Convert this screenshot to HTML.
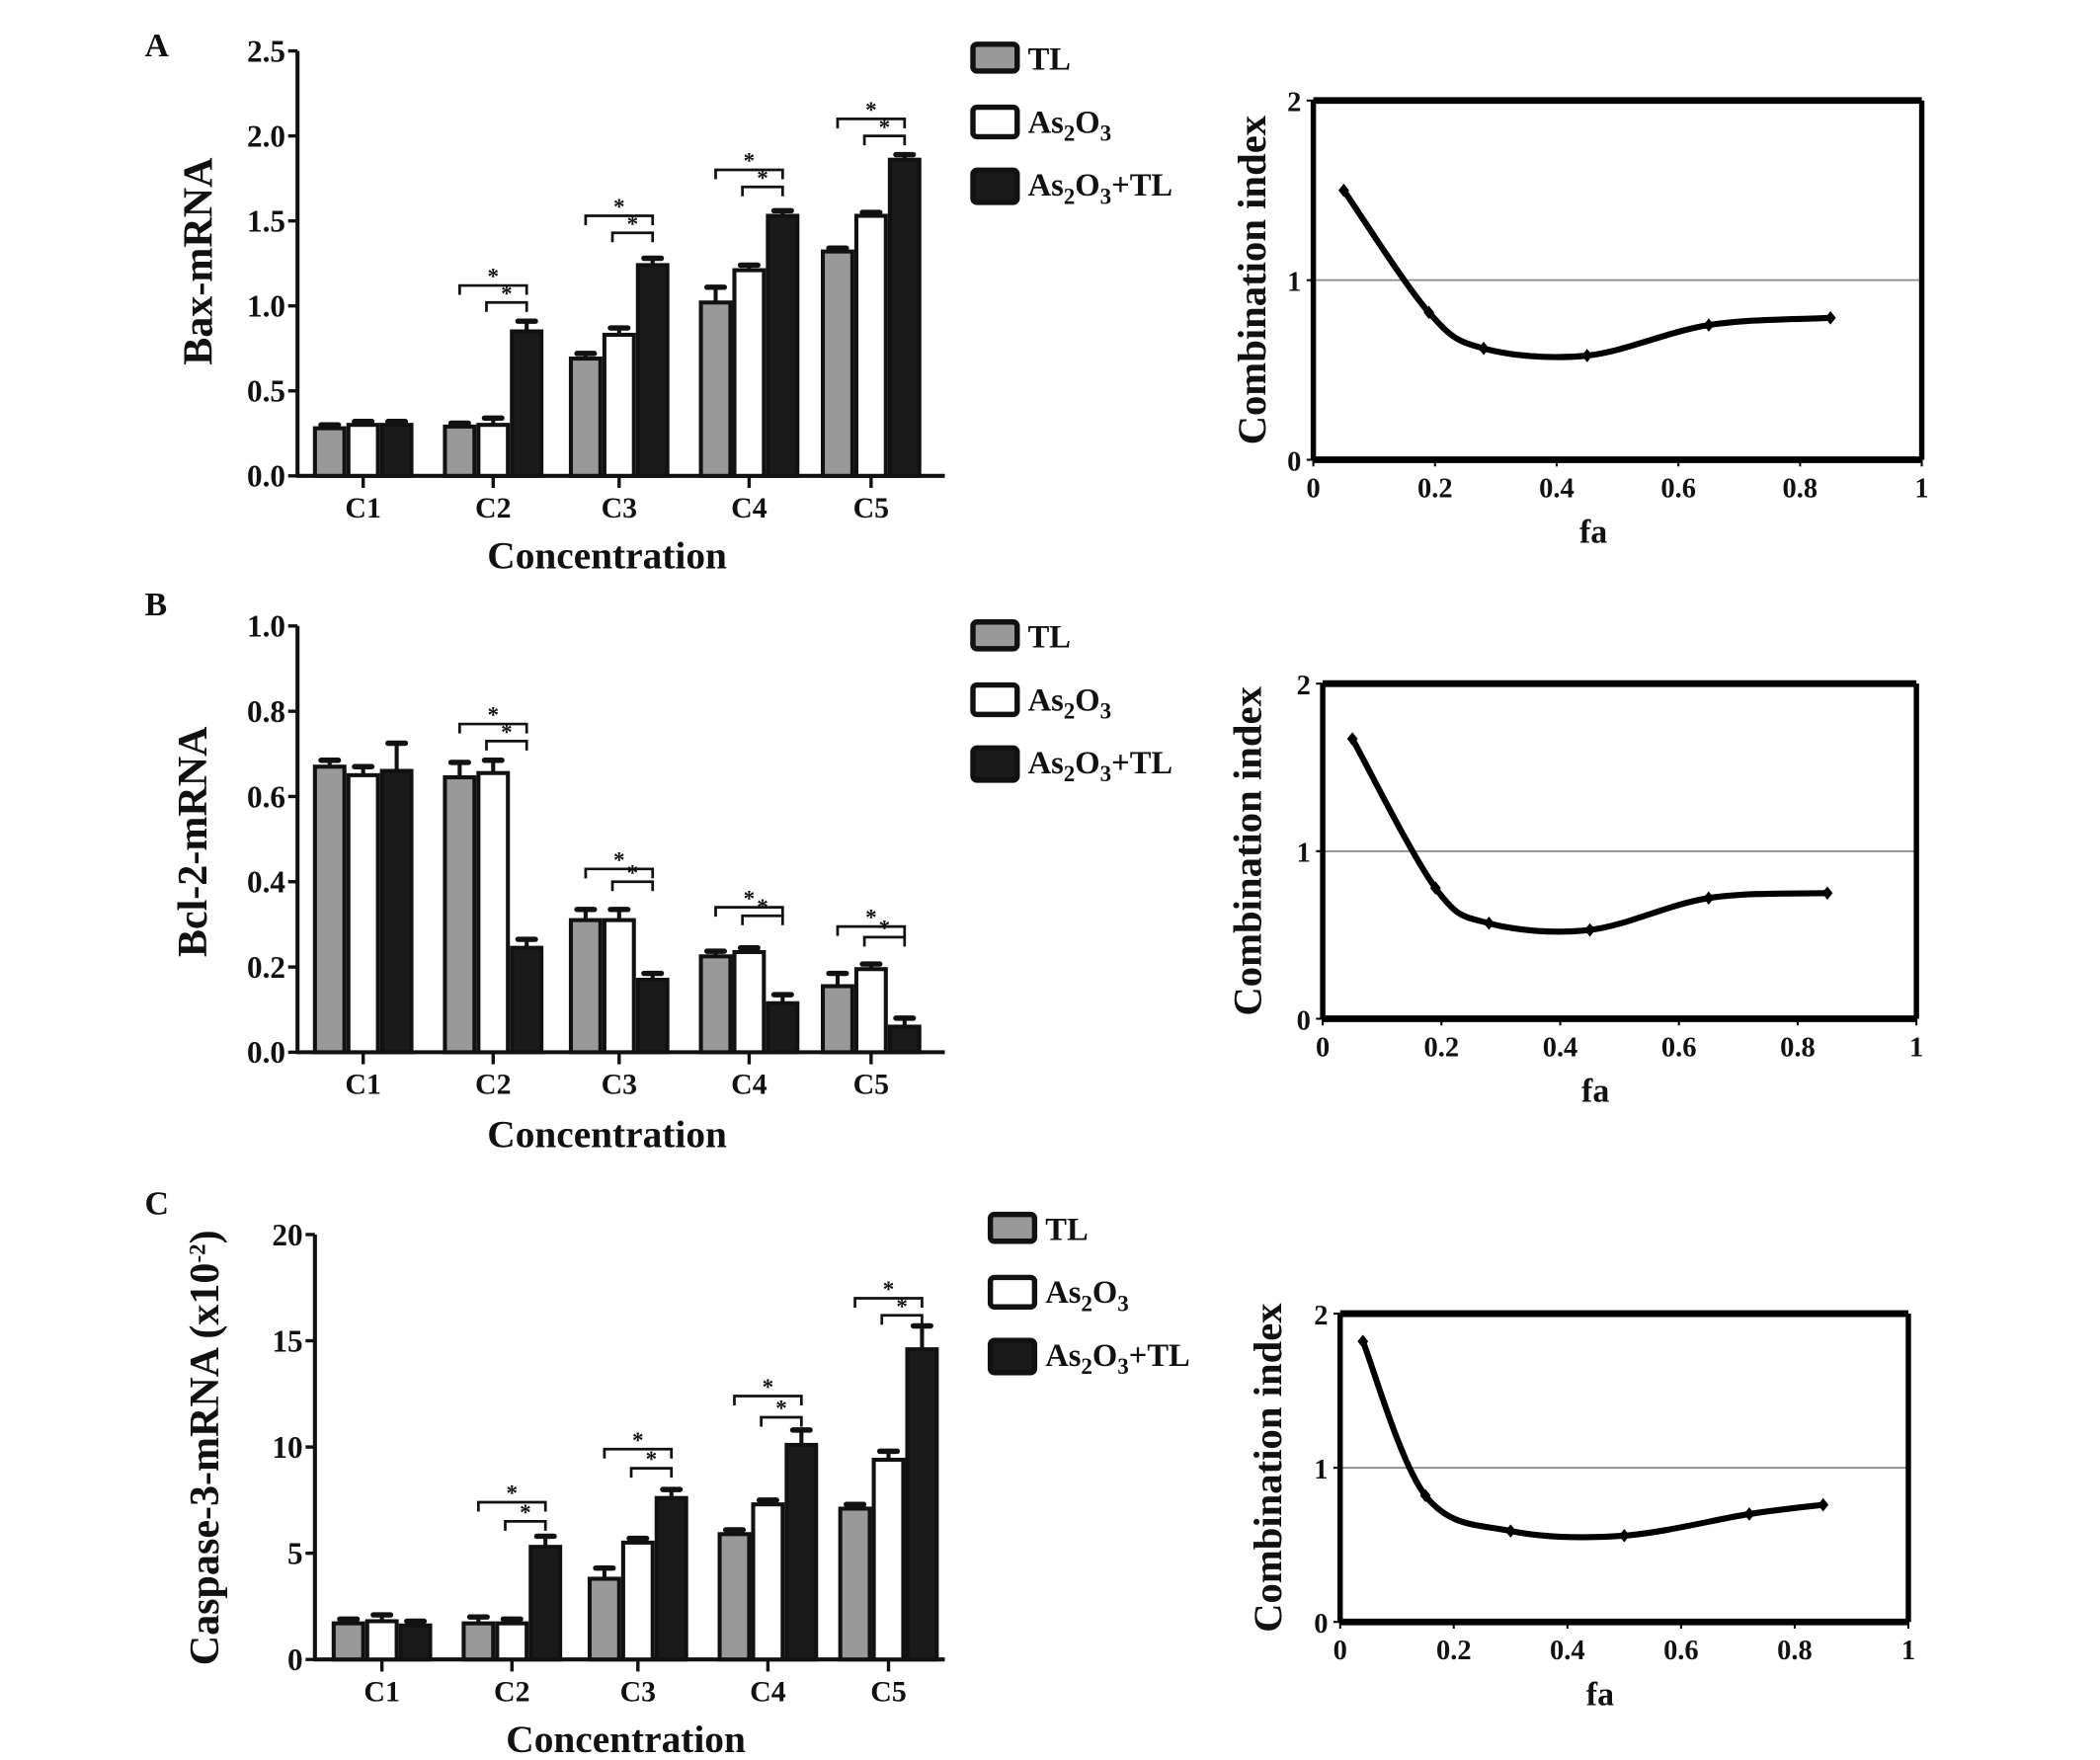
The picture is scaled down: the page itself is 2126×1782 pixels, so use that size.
<!DOCTYPE html>
<html><head><meta charset="utf-8"><style>
html,body{margin:0;padding:0;background:#fff}
svg{display:block}
text{font-family:"Liberation Serif",serif;font-weight:bold;fill:#111}
</style></head><body>
<svg id="fig" xmlns="http://www.w3.org/2000/svg" width="2126" height="1782" viewBox="0 0 1567 1313" preserveAspectRatio="none"></svg>
<script>
// ---- Data ----
const categories = ["C1","C2","C3","C4","C5"];
const baxTL = [0.28,0.29,0.69,1.02,1.32];
const baxAs = [0.30,0.30,0.83,1.21,1.53];
const baxCombo = [0.30,0.85,1.24,1.53,1.86];
const baxErrTL = [0.02,0.02,0.03,0.09,0.02];
const baxErrAs = [0.02,0.04,0.04,0.03,0.02];
const baxErrCombo = [0.02,0.06,0.04,0.03,0.03];
const baxSigOuter = [null,1.12,1.53,1.80,2.10];
const baxSigInner = [null,1.02,1.43,1.70,2.00];
const baxTicks = ["0.0","0.5","1.0","1.5","2.0","2.5"];
const baxTickVals = [0,0.5,1,1.5,2,2.5];

const bclTL = [0.67,0.645,0.31,0.225,0.155];
const bclAs = [0.65,0.655,0.31,0.235,0.195];
const bclCombo = [0.66,0.245,0.17,0.115,0.06];
const bclErrTL = [0.015,0.035,0.025,0.012,0.03];
const bclErrAs = [0.02,0.03,0.025,0.01,0.012];
const bclErrCombo = [0.065,0.02,0.015,0.02,0.02];
const bclSigOuter = [null,0.77,0.43,0.34,0.295];
const bclSigInner = [null,0.73,0.40,0.32,0.27];
const bclTicks = ["0.0","0.2","0.4","0.6","0.8","1.0"];
const bclTickVals = [0,0.2,0.4,0.6,0.8,1.0];

const casTL = [1.7,1.7,3.8,5.9,7.1];
const casAs = [1.8,1.7,5.5,7.3,9.4];
const casCombo = [1.6,5.3,7.6,10.1,14.6];
const casErrTL = [0.2,0.3,0.5,0.2,0.2];
const casErrAs = [0.3,0.2,0.2,0.2,0.4];
const casErrCombo = [0.2,0.5,0.4,0.7,1.1];
const casSigOuter = [null,7.4,9.9,12.4,17.0];
const casSigInner = [null,6.5,9.0,11.4,16.2];
const casTicks = ["0","5","10","15","20"];
const casTickVals = [0,5,10,15,20];

const ciFaA = [0.05,0.19,0.28,0.45,0.65,0.85];
const ciA = [1.5,0.82,0.62,0.58,0.75,0.79];
const ciFaB = [0.05,0.19,0.28,0.45,0.65,0.85];
const ciB = [1.67,0.78,0.57,0.53,0.72,0.75];
const ciFaC = [0.04,0.15,0.30,0.50,0.72,0.85];
const ciC = [1.82,0.82,0.59,0.56,0.70,0.76];
const faTicks = ["0","0.2","0.4","0.6","0.8","1"];
const faTickVals = [0,0.2,0.4,0.6,0.8,1];
const ciTicks = ["0","1","2"];
const ciTickVals = [0,1,2];

const NS="http://www.w3.org/2000/svg";
const svg=document.getElementById('fig');
function mk(tag,attrs,parent){const e=document.createElementNS(NS,tag);for(const k in attrs)e.setAttribute(k,attrs[k]);(parent||svg).appendChild(e);return e;}

function barPanel(o){
  const g=mk('g',{});
  
  
  const y=v=>o.y0-(v/o.ymax)*(o.y0-o.yTop);
  const ax=mk('line',{x1:o.ax,y1:o.yTop,x2:o.ax,y2:o.y0+1,stroke:'#111','stroke-width':3},g);
  
  
  const xa=mk('line',{x1:o.ax-1,y1:o.y0,x2:705,y2:o.y0,stroke:'#111','stroke-width':3},g);
  
  
  o.tickVals.forEach((v,i)=>{
    mk('line',{x1:o.ax-7,y1:y(v),x2:o.ax,y2:y(v),stroke:'#111','stroke-width':2.5},g);
    const t=mk('text',{x:o.ax-9,y:y(v)+8,'text-anchor':'end','font-size':23},g);
    t.textContent=o.ticks[i];
    
    
  });
  const series=[[o.tl,o.etl,'#999'],[o.as,o.eas,'#fff'],[o.co,o.eco,'#1a1a1a']];
  categories.forEach((c,i)=>{
    const cx=o.cx[i];
    mk('line',{x1:cx,y1:o.y0,x2:cx,y2:o.y0+9,stroke:'#111','stroke-width':2.5},g);
    const t=mk('text',{x:cx,y:o.y0+31,'text-anchor':'middle','font-size':22},g);
    t.textContent=c;
    
    
    series.forEach((s,j)=>{
      const bx=cx-12.5+(j-1)*25, v=s[0][i], e=s[1][i];
      const r=mk('rect',{x:bx+1.5,y:y(v),width:22,height:o.y0-y(v),fill:s[2],stroke:'#111','stroke-width':3},g);
      
      
      mk('line',{x1:bx+12.5,y1:y(v),x2:bx+12.5,y2:y(v+e),stroke:'#111','stroke-width':3},g);
      mk('line',{x1:bx+6,y1:y(v+e),x2:bx+19,y2:y(v+e),stroke:'#111','stroke-width':4,'stroke-linecap':'round'},g);
    });
    if(o.so[i]!=null){
      const l=cx-25, m=cx-5, r=cx+25;
      const yo=y(o.so[i]), yi=y(o.si[i]);
      mk('path',{d:`M${l},${yo+7}V${yo}H${r}V${yo+7}`,fill:'none',stroke:'#111','stroke-width':2},g);
      mk('path',{d:`M${m},${yi+7}V${yi}H${r}V${yi+7}`,fill:'none',stroke:'#111','stroke-width':2},g);
      const s1=mk('text',{x:cx,y:yo-1,'text-anchor':'middle','font-size':17},g);s1.textContent='*';
      
      
      const s2=mk('text',{x:cx+10,y:yi-1,'text-anchor':'middle','font-size':17},g);s2.textContent='*';
      
      
    }
  });
  const yl=mk('text',{x:0,y:0,'text-anchor':'middle','font-size':31,transform:`translate(${o.ylx},${o.yly}) rotate(-90)`},g);
  yl.innerHTML=o.ylabel;
  
  
  const xl=mk('text',{x:o.xlx,y:o.xly,'text-anchor':'middle','font-size':29},g);
  xl.textContent='Concentration';
  
  
  const pl=mk('text',{x:108,y:o.ply,'font-size':25},g);
  pl.textContent=o.panel;
  
  
  const fills=['#999','#fff','#1a1a1a'];
  const labels=['TL','As<tspan font-size="17" dy="6">2</tspan><tspan dy="-6">O</tspan><tspan font-size="17" dy="6">3</tspan>','As<tspan font-size="17" dy="6">2</tspan><tspan dy="-6">O</tspan><tspan font-size="17" dy="6">3</tspan><tspan dy="-6">+TL</tspan>'];
  const names=['legend-tl','legend-as2o3','legend-combo'];
  o.legY.forEach((ly,k)=>{
    const b=mk('rect',{x:o.legX,y:ly,width:33,height:[20,22,24][k],rx:3,fill:fills[k],stroke:'#111','stroke-width':4},g);
    
    
    const t=mk('text',{x:o.legX+41,y:ly+19,'font-size':24},g);
    t.innerHTML=labels[k];
    
    
  });
}

function ciPanel(o){
  const g=mk('g',{});
  
  
  const x=v=>o.x0+v*(o.x1-o.x0);
  const y=v=>o.y0-(v/2)*(o.y0-o.y2);
  const ref=mk('line',{x1:o.x0,y1:y(1),x2:o.x1,y2:y(1),stroke:'#888','stroke-width':1.3},g);
  
  
  mk('line',{x1:o.x0,y1:o.y2,x2:o.x1,y2:o.y2,stroke:'#000','stroke-width':5},g);
  mk('line',{x1:o.x0,y1:o.y0,x2:o.x1,y2:o.y0,stroke:'#000','stroke-width':5},g);
  mk('line',{x1:o.x0,y1:o.y2,x2:o.x0,y2:o.y0,stroke:'#000','stroke-width':4},g);
  mk('line',{x1:o.x1,y1:o.y2,x2:o.x1,y2:o.y0,stroke:'#000','stroke-width':4},g);
  faTickVals.forEach((v,i)=>{
    mk('line',{x1:x(v),y1:o.y0,x2:x(v),y2:o.y0+5,stroke:'#000','stroke-width':1.5},g);
    const t=mk('text',{x:x(v),y:o.y0+28,'text-anchor':'middle','font-size':21},g);
    t.textContent=faTicks[i];
    
    
  });
  ciTickVals.forEach((v,i)=>{
    mk('line',{x1:o.x0-5,y1:y(v),x2:o.x0,y2:y(v),stroke:'#000','stroke-width':1.5},g);
    const t=mk('text',{x:o.x0-9,y:y(v)+8,'text-anchor':'end','font-size':21},g);
    t.textContent=ciTicks[i];
    
    
  });
  const P=o.fa.map((f,i)=>[x(f),y(o.ci[i])]);
  let d=`M${P[0][0]},${P[0][1]}`;
  for(let i=0;i<P.length-1;i++){
    const p0=P[Math.max(0,i-1)],p1=P[i],p2=P[i+1],p3=P[Math.min(P.length-1,i+2)];
    const c1=[p1[0]+(p2[0]-p0[0])/6,p1[1]+(p2[1]-p0[1])/6];
    const c2=[p2[0]-(p3[0]-p1[0])/6,p2[1]-(p3[1]-p1[1])/6];
    d+=` C${c1[0]},${c1[1]} ${c2[0]},${c2[1]} ${p2[0]},${p2[1]}`;
  }
  const ln=mk('path',{d:d,fill:'none',stroke:'#000','stroke-width':4.5},g);
  
  
  P.forEach(p=>{
    const m=mk('path',{d:`M${p[0]},${p[1]-5}L${p[0]+4},${p[1]}L${p[0]},${p[1]+5}L${p[0]-4},${p[1]}Z`,fill:'#000'},g);
    
    
  });
  const yl=mk('text',{x:0,y:0,'text-anchor':'middle','font-size':30,transform:`translate(${o.ylx},${(o.y0+o.y2)/2}) rotate(-90)`},g);
  yl.textContent='Combination index';
  
  
  const xl=mk('text',{x:(o.x0+o.x1)/2-18,y:o.y0+62,'text-anchor':'middle','font-size':25},g);
  xl.textContent='fa';
  
  
}

const cxAB=[271,368,462,559,650];
const cxC=[285,382,476,573,663];
barPanel({name:'bax-bar-chart',panel:'A',ply:42,ax:222,yTop:38,y0:355,ymax:2.5,tl:baxTL,as:baxAs,co:baxCombo,etl:baxErrTL,eas:baxErrAs,eco:baxErrCombo,so:baxSigOuter,si:baxSigInner,ticks:baxTicks,tickVals:baxTickVals,cx:cxAB,ylabel:'Bax-mRNA',ylx:158,yly:195,xlx:453,xly:424,legX:726,legY:[33,80,127]});
barPanel({name:'bcl2-bar-chart',panel:'B',ply:459,ax:222,yTop:467,y0:785,ymax:1.0,tl:bclTL,as:bclAs,co:bclCombo,etl:bclErrTL,eas:bclErrAs,eco:bclErrCombo,so:bclSigOuter,si:bclSigInner,ticks:bclTicks,tickVals:bclTickVals,cx:cxAB,ylabel:'Bcl-2-mRNA',ylx:154,yly:628,xlx:453,xly:856,legX:726,legY:[464,511,558]});
barPanel({name:'caspase3-bar-chart',panel:'C',ply:906,ax:235,yTop:921,y0:1238,ymax:20,tl:casTL,as:casAs,co:casCombo,etl:casErrTL,eas:casErrAs,eco:casErrCombo,so:casSigOuter,si:casSigInner,ticks:casTicks,tickVals:casTickVals,cx:cxC,ylabel:'Caspase-3-mRNA (x10<tspan font-size="17" dy="-10">-2</tspan><tspan dy="10">)</tspan>',ylx:163,yly:1080,xlx:467,xly:1307,legX:739,legY:[906,953,1000]});
ciPanel({name:'ci-chart-a',x0:980,x1:1434,y0:343,y2:75,fa:ciFaA,ci:ciA,ylx:944});
ciPanel({name:'ci-chart-b',x0:987,x1:1430,y0:760,y2:510,fa:ciFaB,ci:ciB,ylx:941});
ciPanel({name:'ci-chart-c',x0:1000,x1:1424,y0:1210,y2:980,fa:ciFaC,ci:ciC,ylx:956});
</script>
</body></html>
